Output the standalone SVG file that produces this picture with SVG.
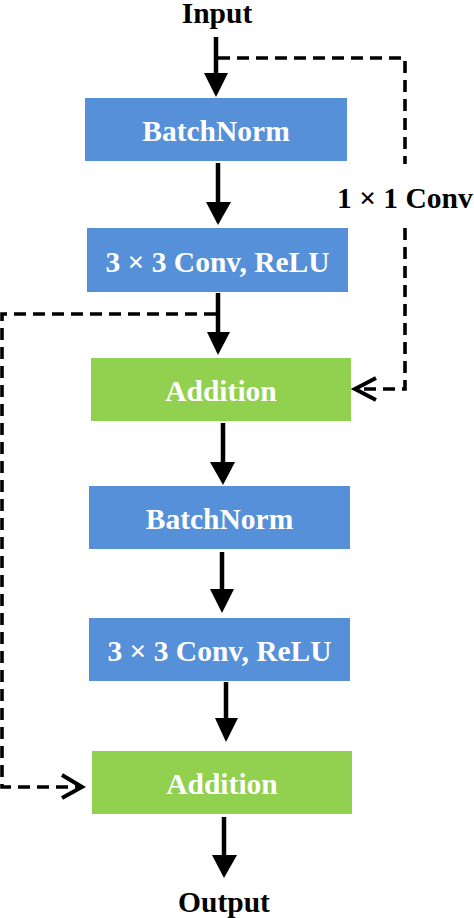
<svg xmlns="http://www.w3.org/2000/svg" width="474" height="918" viewBox="0 0 474 918">
<defs>
<style>
.t{font-family:"Liberation Serif","Times New Roman",serif;font-weight:bold;font-size:29.5px;}
.lbl{fill:#ffffff;text-anchor:middle;}
.blk{fill:#000000;}
.blue{fill:#5590D8;}
.green{fill:#92D050;}
.shaft{stroke:#000;stroke-width:4.5;fill:none;}
.head{fill:#000;}
.dash{stroke:#000;stroke-width:3.6;fill:none;stroke-dasharray:12,7;}
.chev{stroke:#000;stroke-width:4;fill:none;stroke-linejoin:miter;}
</style>
</defs>
<rect width="474" height="918" fill="#ffffff"/>
<text class="t blk" x="217" y="23" text-anchor="middle">Input</text>
<text class="t blk" x="224" y="912" text-anchor="middle">Output</text>
<g id="bn1"><rect class="blue" x="85" y="98" width="262" height="63"/><text class="t lbl" x="216" y="141">BatchNorm</text></g>
<g id="conv1"><rect class="blue" x="87" y="228" width="261" height="64"/><text class="t lbl" x="217.5" y="272">3 × 3 Conv, ReLU</text></g>
<g id="add1"><rect class="green" x="91" y="358" width="260" height="63"/><text class="t lbl" x="221" y="401">Addition</text></g>
<g id="bn2"><rect class="blue" x="89" y="486" width="261" height="63"/><text class="t lbl" x="219.5" y="529">BatchNorm</text></g>
<g id="conv2"><rect class="blue" x="89" y="618" width="261" height="63"/><text class="t lbl" x="219.5" y="661">3 × 3 Conv, ReLU</text></g>
<g id="add2"><rect class="green" x="92" y="751" width="260" height="63"/><text class="t lbl" x="222" y="794">Addition</text></g>
<g id="connectors">
<line class="shaft" x1="216" y1="37" x2="216" y2="75"/><polygon class="head" points="204,73 228,73 216,97"/>
<line class="shaft" x1="218" y1="163" x2="218" y2="204"/><polygon class="head" points="206,202 231,202 218,225"/>
<line class="shaft" x1="218" y1="293" x2="218" y2="334"/><polygon class="head" points="207,332 230,332 218,355"/>
<line class="shaft" x1="223" y1="423" x2="223" y2="464"/><polygon class="head" points="210,462 235,462 223,485"/>
<line class="shaft" x1="222" y1="552" x2="222" y2="591"/><polygon class="head" points="210,589 234,589 222,613"/>
<line class="shaft" x1="226" y1="682" x2="226" y2="720"/><polygon class="head" points="215,718 238,718 226,742"/>
<line class="shaft" x1="224" y1="817" x2="224" y2="857"/><polygon class="head" points="212,855 237,855 224,878"/>
<polyline class="dash" points="218,58 405,58 405,164"/>
<polyline class="dash" points="405,228 405,389 357,389"/>
<polyline class="chev" points="376,378 355,389 376,400"/>
<polyline class="dash" points="216,314 2,314 2,787 79,787"/>
<polyline class="chev" points="62,775 82,787 62,798"/>
<text class="t blk" x="337" y="208">1 × 1 Conv</text>
</g>
</svg>
